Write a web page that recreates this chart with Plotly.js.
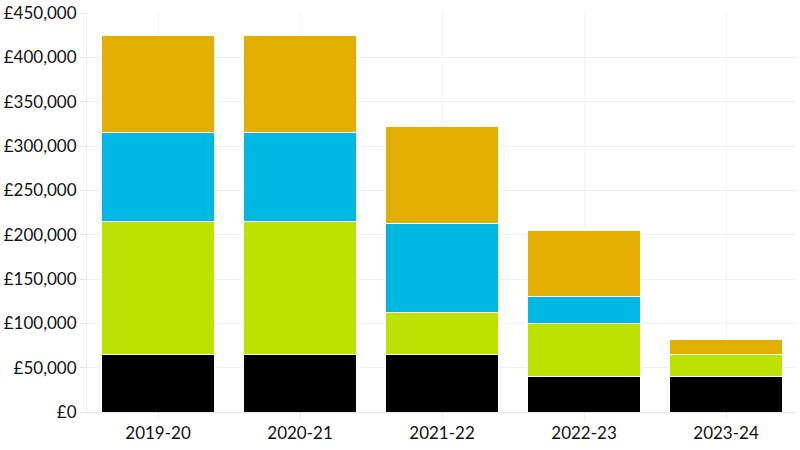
<!DOCTYPE html>
<html>
<head>
<meta charset="utf-8">
<script src="https://cdn.plot.ly/plotly-3.0.1.min.js"></script>
<style>html,body{margin:0;padding:0;background:#fff;}#chart{width:800px;height:450px;}</style>
</head>
<body>
<div id="chart"></div>
<script>
const years = ["2019-20", "2020-21", "2021-22", "2022-23", "2023-24"];
const seriesBlack = [65000, 65000, 65000, 40000, 40000];
const seriesGreen = [150000, 150000, 47500, 60000, 25000];
const seriesBlue = [100000, 100000, 100000, 30000, 0];
const seriesOrange = [110000, 110000, 110000, 75000, 17000];
const yTickVals = [0, 50000, 100000, 150000, 200000, 250000, 300000, 350000, 400000, 450000];
const yTickText = ["£0", "£50,000", "£100,000", "£150,000", "£200,000", "£250,000", "£300,000", "£350,000", "£400,000", "£450,000"];

const mk = (y, color, name) => ({
  type: "bar", x: years, y: y, name: name,
  marker: {color: color, line: {color: "#ffffff", width: 1}},
  hoverinfo: "skip"
});
const data = [
  mk(seriesBlack, "#000000", "A"),
  mk(seriesGreen, "#BDE200", "B"),
  mk(seriesBlue, "#00B9E3", "C"),
  mk(seriesOrange, "#E2AF00", "D")
];
const layout = {
  width: 800, height: 450,
  margin: {l: 87, r: 3, t: 13, b: 38},
  barmode: "stack", bargap: 0.2,
  showlegend: false,
  paper_bgcolor: "#ffffff", plot_bgcolor: "#ffffff",
  font: {family: "Lato, sans-serif", size: 17, color: "#111111"},
  xaxis: {
    showgrid: true, gridcolor: "#f2f2f2", gridwidth: 1,
    ticks: "outside", ticklen: 6, tickcolor: "#e6e6e6",
    showline: true, linecolor: "#e6e6e6", linewidth: 1,
    tickfont: {size: 17, color: "#111111"}
  },
  yaxis: {
    range: [0, 450000], tickvals: yTickVals, ticktext: yTickText,
    showgrid: true, gridcolor: "#eeeeee", gridwidth: 1,
    ticks: "outside", ticklen: 6, tickcolor: "#e6e6e6",
    showline: true, linecolor: "#eeeeee", linewidth: 1,
    zeroline: false,
    tickfont: {size: 17, color: "#111111"}
  }
};
Plotly.newPlot("chart", data, layout, {displayModeBar: false, staticPlot: true});
</script>
</body>
</html>
